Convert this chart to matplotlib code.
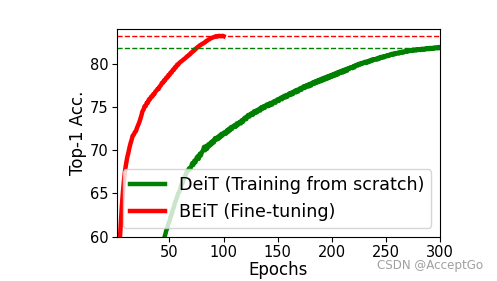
import matplotlib
matplotlib.use('Agg')
import matplotlib.pyplot as plt
import numpy as np

# BEiT fine-tuning curve, epochs 1..100
beit_epochs = np.arange(1, 101)
beit_acc = [
    48.0, 53.5, 57.2, 59.3, 61.5, 63.6, 65.2, 66.6, 67.7, 68.5,
    69.2, 69.7, 70.3, 70.8, 71.2, 71.7, 71.8, 72.1, 72.2, 72.6,
    72.9, 73.2, 73.6, 74.0, 74.5, 74.7, 75.1, 75.1, 75.5, 75.5,
    75.9, 75.9, 76.2, 76.2, 76.5, 76.5, 76.8, 76.9, 77.1, 77.1,
    77.4, 77.5, 77.8, 77.8, 78.1, 78.1, 78.4, 78.4, 78.7, 78.7,
    79.0, 79.0, 79.3, 79.3, 79.6, 79.6, 79.9, 79.9, 80.1, 80.2,
    80.3, 80.4, 80.5, 80.6, 80.7, 80.85, 80.9, 81.05, 81.1, 81.3,
    81.35, 81.5, 81.55, 81.75, 81.8, 81.95, 82.0, 82.15, 82.2, 82.3,
    82.35, 82.45, 82.5, 82.65, 82.7, 82.8, 82.85, 82.95, 83.0, 83.05,
    83.1, 83.15, 83.2, 83.15, 83.2, 83.25, 83.2, 83.2, 83.25, 83.2,
]

# DeiT from scratch, epochs 40..300 (earlier epochs are below the axis)
deit_epochs = np.arange(40, 301)
deit_acc = [
    58.0, 58.4, 58.7, 59.1, 59.4, 59.8, 60.2, 60.7, 61.0, 61.5,
    61.8, 62.3, 62.6, 63.1, 63.4, 63.9, 64.2, 64.6, 65.0, 65.2,
    65.6, 66.0, 66.2, 66.6, 66.9, 67.2, 67.5, 67.6, 67.9, 67.8,
    68.1, 68.5, 68.3, 68.8, 68.6, 69.1, 69.3, 69.0, 69.6, 69.4,
    69.8, 70.0, 70.4, 70.0, 70.5, 70.2, 70.7, 70.5, 70.9, 70.7,
    71.1, 70.9, 71.4, 71.2, 71.5, 71.3, 71.7, 71.5, 71.9, 71.7,
    72.0, 72.1, 71.9, 72.3, 72.1, 72.5, 72.3, 72.7, 72.5, 72.8,
    72.9, 72.7, 73.1, 72.9, 73.2, 73.3, 73.1, 73.5, 73.3, 73.7,
    73.8, 73.6, 74.0, 74.1, 73.9, 74.2, 74.3, 74.1, 74.5, 74.3,
    74.6, 74.4, 74.7, 74.8, 74.6, 75.0, 74.8, 75.1, 74.9, 75.2,
    75.3, 75.1, 75.4, 75.2, 75.5, 75.3, 75.6, 75.7, 75.5, 75.8,
    75.9, 75.7, 76.0, 76.1, 75.9, 76.2, 76.3, 76.1, 76.4, 76.2,
    76.5, 76.6, 76.4, 76.7, 76.5, 76.8, 76.9, 76.7, 77.0, 76.8,
    77.1, 77.2, 77.0, 77.3, 77.4, 77.2, 77.5, 77.35, 77.6, 77.4,
    77.7, 77.5, 77.8, 77.9, 77.7, 78.0, 77.8, 78.1, 77.9, 78.2,
    78.0, 78.3, 78.1, 78.4, 78.2, 78.5, 78.3, 78.6, 78.4, 78.7,
    78.5, 78.8, 78.6, 78.9, 78.7, 79.0, 78.8, 79.1, 78.95, 79.2,
    79.0, 79.3, 79.1, 79.4, 79.2, 79.5, 79.4, 79.6, 79.6, 79.5,
    79.75, 79.6, 79.85, 79.9, 79.8, 80.0, 79.9, 80.1, 80.0, 80.15,
    80.1, 80.25, 80.1, 80.3, 80.2, 80.4, 80.3, 80.5, 80.4, 80.55,
    80.5, 80.6, 80.5, 80.7, 80.6, 80.8, 80.7, 80.85, 80.75, 80.9,
    80.85, 81.0, 80.9, 81.05, 81.0, 81.15, 81.05, 81.2, 81.1, 81.25,
    81.2, 81.3, 81.2, 81.35, 81.3, 81.4, 81.3, 81.45, 81.45, 81.4,
    81.5, 81.45, 81.55, 81.6, 81.5, 81.65, 81.55, 81.65, 81.55, 81.7,
    81.6, 81.7, 81.6, 81.75, 81.65, 81.75, 81.65, 81.8, 81.7, 81.8,
    81.7, 81.85, 81.75, 81.85, 81.75, 81.9, 81.8, 81.9, 81.8, 81.95,
    81.85,
]

beit_final = 83.2
deit_final = 81.8

fig = plt.figure(figsize=(4.97, 2.81), dpi=100)
ax = fig.add_axes([0.2354, 0.1577, 0.650, 0.738])

ax.plot(deit_epochs, deit_acc, color='green', lw=3.2, label='DeiT (Training from scratch)')
ax.plot(beit_epochs, beit_acc, color='red', lw=3.2, label='BEiT (Fine-tuning)')
ax.axhline(beit_final, color='red', ls='--', lw=1)
ax.axhline(deit_final, color='green', ls='--', lw=1)

ax.set_xlim(1.5, 300)
ax.set_ylim(60, 84)
ax.set_xticks([50, 100, 150, 200, 250, 300])
ax.set_yticks([60, 65, 70, 75, 80])
ax.tick_params(labelsize=10.5, pad=2.5)
ax.set_xlabel('Epochs', fontsize=12, labelpad=1)
ax.set_ylabel('Top-1 Acc.', fontsize=12, labelpad=2)
ax.legend(loc='lower right', fontsize=12.6)

fig.text(483 / 497, 1 - 265 / 281, 'CSDN @AcceptGo', fontsize=8.6,
         color='#a0a0a0', ha='right', va='center')

fig.savefig('out.png', dpi=100)
